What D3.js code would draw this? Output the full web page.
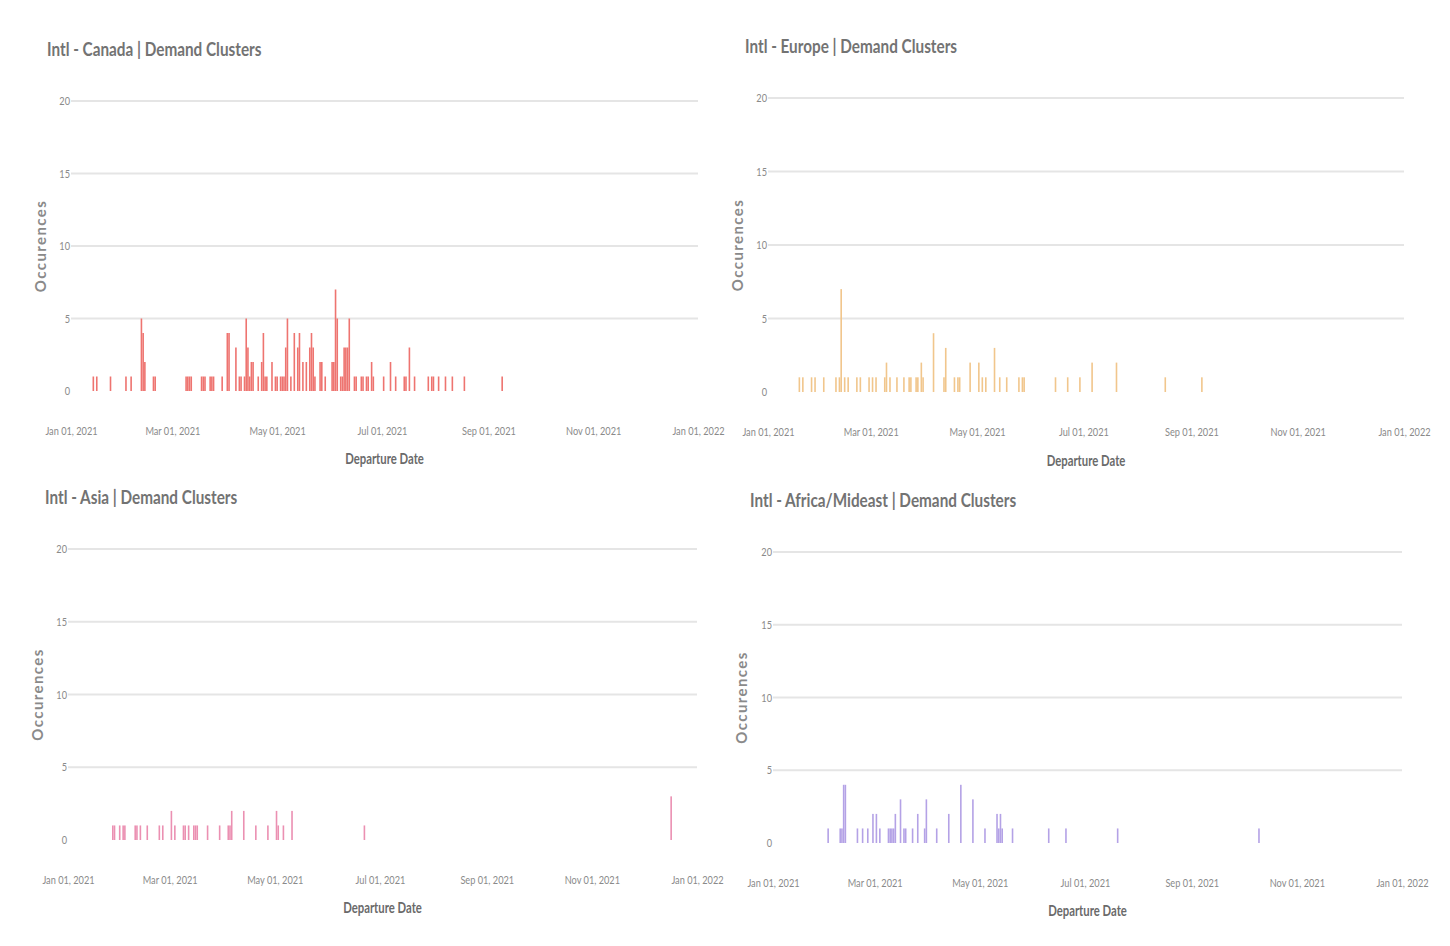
<!DOCTYPE html>
<html>
<head>
<meta charset="utf-8">
<script src="https://cdn.jsdelivr.net/npm/d3@7"></script>
<style>
  html, body { margin: 0; padding: 0; background: #fff; }
  text { font-family: Lato, "Open Sans", sans-serif; }
</style>
</head>
<body>
<svg id="chart" width="1450" height="946"></svg>
<script>
// departure dates (2021, MM-DD) and occurrence counts per region
const canadaDates = ["01-14","01-16","01-24","02-02","02-05","02-11","02-12","02-13","02-18","02-19",
  "03-09","03-10","03-11","03-12","03-18","03-19","03-20","03-23","03-24","03-25","03-30",
  "04-02","04-03","04-07","04-09","04-10","04-12","04-13","04-14","04-15","04-16","04-17","04-20",
  "04-22","04-23","04-24","04-25","04-28","04-30","05-01","05-03","05-04","05-05","05-06","05-07",
  "05-09","05-11","05-13","05-14","05-16","05-18","05-20","05-21","05-22","05-23","05-26","05-27",
  "05-29","06-02","06-03","06-04","06-05","06-07","06-08","06-09","06-10","06-11","06-12","06-15",
  "06-16","06-19","06-20","06-22","06-23","06-25","06-26","07-02","07-06","07-09","07-14","07-15",
  "07-17","07-20","07-28","07-30","07-31","08-03","08-07","08-11","08-18","09-09"];
const canadaCounts = [1,1,1,1,1,5,4,2,1,1,
  1,1,1,1,1,1,1,1,1,1,1,
  4,4,3,1,1,1,5,3,1,2,2,1,
  2,4,1,1,2,1,1,1,1,1,3,5,
  1,4,3,4,2,2,3,4,3,1,2,2,
  1,2,2,7,5,1,1,3,3,3,5,1,
  1,1,1,1,1,2,1,1,2,1,1,1,
  3,1,1,1,1,1,1,1,1,1];

const europeDates = ["01-19","01-21","01-26","01-28","02-02","02-09","02-11","02-12","02-14","02-16",
  "02-21","02-23","02-28","03-02","03-04","03-09","03-10","03-12","03-16","03-20","03-23","03-24",
  "03-27","03-28","03-30","03-31","04-06","04-12","04-13","04-18","04-20","04-21","04-27","05-02",
  "05-04","05-06","05-11","05-14","05-18","05-25","05-27","05-28","06-15","06-22","06-29","07-06",
  "07-20","08-17","09-07"];
const europeCounts = [1,1,1,1,1,1,1,7,1,1,
  1,1,1,1,1,1,2,1,1,1,1,1,
  1,1,2,1,4,1,3,1,1,1,2,2,
  1,1,3,1,1,1,1,1,1,1,1,2,
  2,1,1];

const asiaDates = ["01-27","01-28","01-31","02-02","02-03","02-09","02-10","02-12","02-16","02-23",
  "02-25","03-02","03-04","03-09","03-10","03-12","03-15","03-16","03-17","03-23","03-30","04-04",
  "04-05","04-06","04-13","04-20","04-27","05-02","05-03","05-06","05-11","06-22","12-17"];
const asiaCounts = [1,1,1,1,1,1,1,1,1,1,
  1,2,1,1,1,1,1,1,1,1,1,1,
  1,2,2,1,1,2,1,1,2,1,3];

const africaDates = ["02-02","02-09","02-10","02-11","02-12","02-19","02-22","02-25","02-28","03-02",
  "03-04","03-09","03-10","03-11","03-12","03-13","03-16","03-18","03-19","03-23","03-26","03-30",
  "03-31","04-06","04-13","04-20","04-27","05-04","05-11","05-12","05-13","05-14","05-20","06-10",
  "06-20","07-20","10-10"];
const africaCounts = [1,1,1,4,4,1,1,1,2,2,
  1,1,1,1,1,2,3,1,1,1,2,1,
  3,1,2,4,3,1,2,1,2,1,1,1,
  1,1,1];

const yTicks = [0, 5, 10, 15, 20];
const xTickMonths = ["2021-01-01","2021-03-01","2021-05-01","2021-07-01","2021-09-01","2021-11-01","2022-01-01"];

const parse = d3.timeParse("%Y-%m-%d");
const fmt = d3.timeFormat("%b %d, %Y");
const sx = 0.8; // horizontal squeeze of the text

const panels = [
  {title: "Intl - Canada | Demand Clusters", dates: canadaDates, counts: canadaCounts, color: "#ee7470",
   left: 71, right: 698, top: 101, bottom: 391, titleX: 47, titleY: 56, yLabX: 46, xLabY: 464},
  {title: "Intl - Europe | Demand Clusters", dates: europeDates, counts: europeCounts, color: "#f1c68c",
   left: 768, right: 1404, top: 98, bottom: 392, titleX: 745, titleY: 53, yLabX: 743, xLabY: 466},
  {title: "Intl - Asia | Demand Clusters", dates: asiaDates, counts: asiaCounts, color: "#eb90b2",
   left: 68, right: 697, top: 549, bottom: 840, titleX: 45, titleY: 504, yLabX: 43, xLabY: 913},
  {title: "Intl - Africa/Mideast | Demand Clusters", dates: africaDates, counts: africaCounts, color: "#b4a2e6",
   left: 773, right: 1402, top: 552, bottom: 843, titleX: 750, titleY: 507, yLabX: 747, xLabY: 916}
];

const svg = d3.select("#chart");

function squeezedText(g, x, y, str, k) {
  return g.append("text")
    .attr("transform", `translate(${x},${y}) scale(${k || sx},1)`)
    .text(str);
}

panels.forEach(p => {
  const g = svg.append("g");
  const x = d3.scaleTime()
    .domain([parse("2021-01-01"), parse("2022-01-01")])
    .range([p.left, p.right]);
  const y = d3.scaleLinear()
    .domain([0, 20])
    .range([p.bottom, p.top]);

  // title
  squeezedText(g, p.titleX, p.titleY, p.title, 0.785)
    .attr("font-size", 19.5)
    .attr("font-weight", 700)
    .attr("fill", "#737373");

  // grid lines
  g.append("g")
    .selectAll("line")
    .data(yTicks.filter(t => t > 0))
    .join("line")
    .attr("x1", p.left)
    .attr("x2", p.right)
    .attr("y1", d => y(d))
    .attr("y2", d => y(d))
    .attr("stroke", "#e5e5e5")
    .attr("stroke-width", 2);

  // y axis
  const ya = g.append("g")
    .attr("transform", `translate(${p.left - 1},0)`)
    .call(d3.axisLeft(y).tickValues(yTicks).tickSize(0).tickPadding(0));
  ya.select(".domain").remove();
  ya.selectAll("text")
    .attr("font-family", "Lato, sans-serif")
    .attr("font-size", 11.5)
    .attr("fill", "#8a8a8a")
    .attr("transform", `scale(${sx},1)`)
    .attr("x", 0);

  // x axis
  const xa = g.append("g")
    .attr("transform", `translate(0,${p.bottom + 40})`)
    .call(d3.axisBottom(x).tickValues(xTickMonths.map(parse)).tickFormat(fmt).tickSize(0).tickPadding(0));
  xa.select(".domain").remove();
  xa.selectAll(".tick text")
    .attr("font-family", "Lato, sans-serif")
    .attr("font-size", 11.5)
    .attr("fill", "#8a8a8a")
    .attr("dy", "0.35em")
    .attr("transform", `scale(${sx},1)`);

  // axis titles
  squeezedText(g, (p.left + p.right) / 2, p.xLabY, "Departure Date", 0.78)
    .attr("text-anchor", "middle")
    .attr("font-size", 14.5)
    .attr("font-weight", 700)
    .attr("fill", "#6a6a6a");
  g.append("text")
    .attr("transform", `translate(${p.yLabX},${(p.top + p.bottom) / 2}) rotate(-90)`)
    .attr("text-anchor", "middle")
    .attr("font-size", 15)
    .attr("font-weight", 700)
    .attr("letter-spacing", 1.4)
    .attr("fill", "#8a8a8a")
    .text("Occurences");

  // bars
  const rows = p.dates.map((d, i) => ({date: parse("2021-" + d), value: p.counts[i]}));
  const bw = 1.6;
  g.append("g")
    .attr("fill", p.color)
    .selectAll("rect")
    .data(rows)
    .join("rect")
    .attr("x", d => x(d.date) - bw / 2)
    .attr("y", d => y(d.value))
    .attr("width", bw)
    .attr("height", d => y(0) - y(d.value));
});
</script>
</body>
</html>
